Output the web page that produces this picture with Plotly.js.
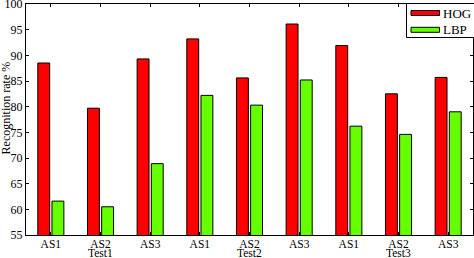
<!DOCTYPE html>
<html>
<head>
<meta charset="utf-8">
<script src="https://cdn.plot.ly/plotly-3.0.1.min.js"></script>
<style>html,body{margin:0;padding:0;background:#fff;}#chart{width:474px;height:258px;}</style>
</head>
<body>
<div id="chart"></div>
<script>
var positions = [1, 2, 3, 4, 5, 6, 7, 8, 9];
var tickLabels = ['AS1', 'AS2', 'AS3', 'AS1', 'AS2', 'AS3', 'AS1', 'AS2', 'AS3'];
var groupLabels = ['Test1', 'Test2', 'Test3'];
var groupCenters = [2, 5, 8];
var hogValues = [88.5, 79.7, 89.3, 93.2, 85.6, 96.1, 91.9, 82.5, 85.7];
var lbpValues = [61.6, 60.5, 68.9, 82.2, 80.3, 85.2, 76.2, 74.6, 79.0];
var yTicks = [55, 60, 65, 70, 75, 80, 85, 90, 95, 100];
var seriesNames = ['HOG', 'LBP'];
var seriesColors = ['#ff0000', '#66ff00'];

var traces = [
  {type: 'bar', x: positions, y: hogValues, name: seriesNames[0], showlegend: false,
   marker: {color: seriesColors[0], line: {color: '#000', width: 1}}},
  {type: 'bar', x: positions, y: lbpValues, name: seriesNames[1], showlegend: false,
   marker: {color: seriesColors[1], line: {color: '#000', width: 1}}}
];

var W = 474, H = 258, ML = 26, MR = 1, MT = 4, MB = 23;
var PW = W - ML - MR, PH = H - MT - MB;
function px(x) { return (x - ML) / PW; }
function py(y) { return 1 - (y - MT) / PH; }

var font = {family: 'Liberation Serif, Times New Roman, serif', size: 12, color: '#000'};
var xfont = {family: 'Liberation Serif, Times New Roman, serif', size: 11.5, color: '#000'};
var lfont = {family: 'Liberation Serif, Times New Roman, serif', size: 13, color: '#000'};

var annotations = groupLabels.map(function (t, i) {
  return {text: t, x: groupCenters[i], xref: 'x', y: 0, yref: 'paper', yanchor: 'top',
    yshift: -11, showarrow: false, font: xfont, borderpad: 0};
});
annotations.push({text: 'Recognition rate %', textangle: -90, xref: 'paper', x: 0, xanchor: 'center',
  xshift: -20, yref: 'paper', y: 0.548, yanchor: 'middle', showarrow: false, font: font});

// legend (drawn manually so the box may run past the right edge, as in the original)
var shapes = [
  {type: 'rect', xref: 'paper', yref: 'paper', x0: px(406.5), x1: px(490), y0: py(3.5), y1: py(37.5),
   fillcolor: '#fff', line: {color: '#000', width: 1}, layer: 'above'}
];
var legendY = [13, 29.8];
seriesNames.forEach(function (n, i) {
  shapes.push({type: 'rect', xref: 'paper', yref: 'paper', x0: px(411), x1: px(439.5),
    y0: py(legendY[i] - 2.5), y1: py(legendY[i] + 2.5),
    fillcolor: seriesColors[i], line: {color: '#000', width: 1}, layer: 'above'});
  annotations.push({text: n, xref: 'paper', yref: 'paper', x: px(441.5), xanchor: 'left',
    y: py(legendY[i]), yanchor: 'middle', showarrow: false, font: lfont, borderpad: 0});
});

var layout = {
  width: W, height: H,
  margin: {l: ML, r: MR, t: MT, b: MB},
  paper_bgcolor: '#fff', plot_bgcolor: '#fff',
  font: font,
  barmode: 'group', bargap: 0.43, bargroupgap: 0.16,
  xaxis: {range: [0.5, 9.5], tickvals: positions, ticktext: tickLabels,
    ticks: 'inside', ticklen: 3, tickcolor: '#000', showline: true, linecolor: '#000', linewidth: 1,
    mirror: 'ticks', showgrid: false, zeroline: false, tickfont: xfont, fixedrange: true,
    ticklabelstandoff: -2},
  yaxis: {range: [55, 100], tickvals: yTicks, ticktext: yTicks.map(String), ticklabeloverflow: 'allow',
    ticks: 'inside', ticklen: 3, tickcolor: '#000', showline: true, linecolor: '#000', linewidth: 1,
    mirror: 'ticks', showgrid: false, zeroline: false, tickfont: font},
  shapes: shapes,
  annotations: annotations,
  showlegend: false
};
Plotly.newPlot('chart', traces, layout, {displayModeBar: false, staticPlot: true});
</script>
</body>
</html>
